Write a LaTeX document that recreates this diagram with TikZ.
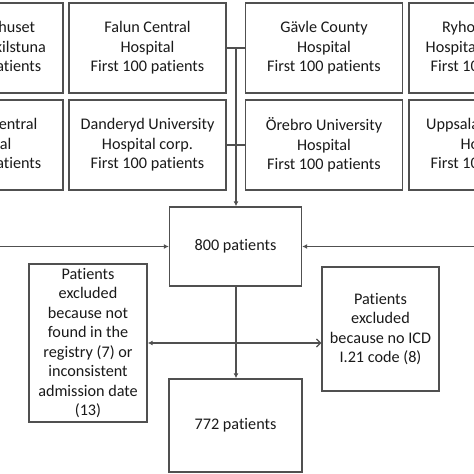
\documentclass[tikz,border=0pt]{standalone}
\usepackage{fontspec}
\setmainfont{Carlito}[Ligatures=NoCommon]
\usetikzlibrary{arrows.meta}
\definecolor{edgegray}{HTML}{505050}
\definecolor{txtgray}{HTML}{1A1A1A}
\tikzset{
  box/.style={draw=edgegray, line width=1.4pt, fill=white, align=center, text=txtgray,
    font=\fontsize{16.2}{19.5}\selectfont, inner sep=0pt},
  hosp/.style={box, minimum width=157pt, minimum height=90pt},
  conn/.style={draw=edgegray, line width=1.2pt},
  tipf/.style={-{Latex[length=5pt,width=5pt]}},
}
\begin{document}
\begin{tikzpicture}[x=1pt,y=1pt]
\useasboundingbox (0,0) rectangle (474,-474);
\clip (0,0) rectangle (474,-474);
% hospitals top row
\node[hosp] (esk) at (-15.5,-48) {Mälarsjukhuset\\Hospital Eskilstuna\\First 100 patients};
\node[hosp] (falun) at (147.5,-48) {Falun Central\\Hospital\\First 100 patients};
\node[hosp] (gavle) at (324,-48) {Gävle County\\Hospital\\First 100 patients};
\node[hosp] (ryhov) at (487.5,-48) {Ryhov County\\Hospital Jönköping\\First 100 patients};
% second row
\node[hosp] (vas) at (-15.5,-145) {Västerås Central\\Hospital\\First 100 patients};
\node[hosp] (dand) at (147.5,-145) {Danderyd University\\Hospital corp.\\First 100 patients};
\node[hosp] (ore) at (324,-145) {Örebro University\\Hospital\\First 100 patients};
\node[hosp] (upp) at (487.5,-145) {Uppsala University\\Hospital\\First 100 patients};
% totals
\node[box, minimum width=132pt, minimum height=79pt] (p800) at (235.5,-246.5) {800 patients};
\node[box, minimum width=133pt, minimum height=93pt] (p772) at (235.5,-425.5) {772 patients};
% exclusions
\node[box, minimum width=118pt, minimum height=158pt] (exL) at (88,-343)
  {Patients\\excluded\\because not\\found in the\\registry (7) or\\inconsistent\\admission date\\(13)};
\node[box, minimum width=117pt, minimum height=124pt] (exR) at (380.5,-329)
  {Patients\\excluded\\because no ICD\\I.21 code (8)};
% connectors
\coordinate (j1) at (236,-48);
\coordinate (j2) at (236,-145);
\coordinate (lin) at (0,-246.5);
\coordinate (rin) at (474,-246.5);
\coordinate (jx) at (236,-343);
\draw[conn] (falun.east) -- (gavle.west);
\draw[conn] (dand.east) -- (ore.west);
\draw[conn, tipf] (j1) -- (j1 |- p800.north);
\draw[conn, tipf] (lin) -- (p800.west);
\draw[conn, tipf] (rin) -- (p800.east);
\draw[conn, tipf] (p800.south -| j1) -- (p772.north -| j1);
\draw[conn, {Latex[length=5pt,width=5pt]}-{Straight Barb[length=4pt,width=8pt]}] (exL.east |- jx) -- (exR.west |- jx);
\end{tikzpicture}
\end{document}
